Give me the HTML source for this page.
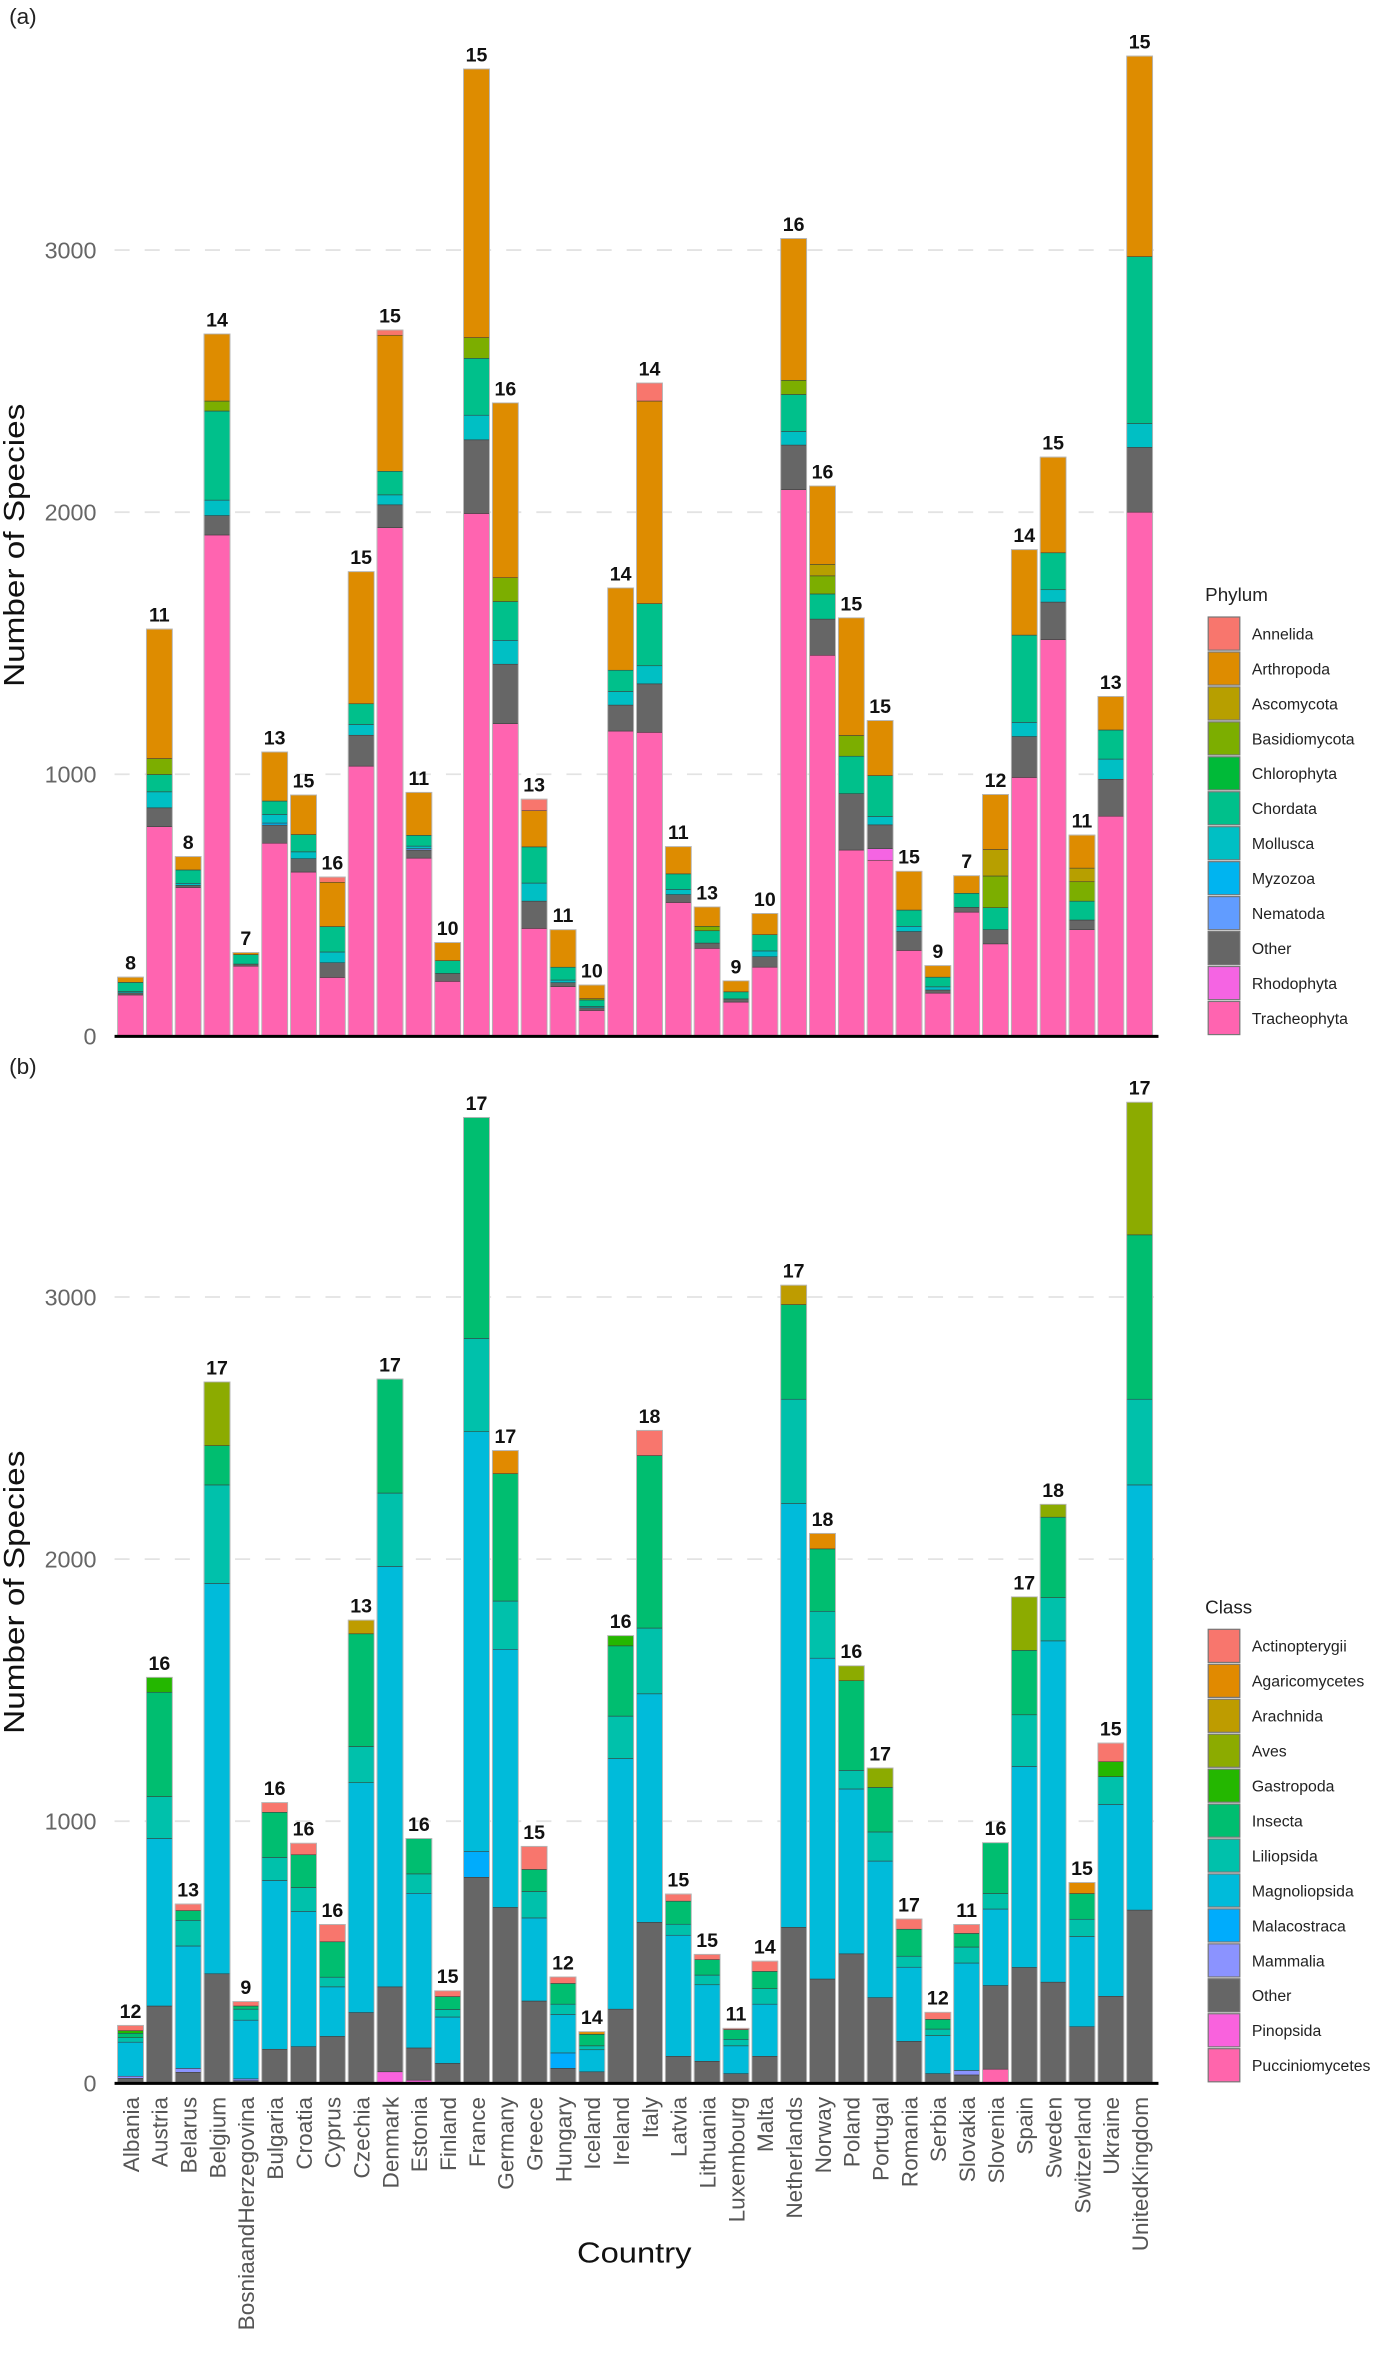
<!DOCTYPE html>
<html><head><meta charset="utf-8"><style>
html,body{margin:0;padding:0;background:#fff;}
svg{display:block;font-family:"Liberation Sans",Arial,sans-serif;}
</style></head><body>
<svg id="chart" xmlns="http://www.w3.org/2000/svg" width="1383" height="2362" viewBox="0 0 918 1568">
<rect width="918" height="1568" fill="#fff"/>
<text x="6" y="16" font-size="15" fill="#222">(a)</text>
<text x="6" y="713" font-size="15" fill="#222">(b)</text>
<text transform="translate(16,362) rotate(-90)" text-anchor="middle" font-size="19" fill="#111" textLength="188" lengthAdjust="spacingAndGlyphs">Number of Species</text>
<text transform="translate(16,1057) rotate(-90)" text-anchor="middle" font-size="19" fill="#111" textLength="188" lengthAdjust="spacingAndGlyphs">Number of Species</text>
<text x="421" y="1502" text-anchor="middle" font-size="19" fill="#111" textLength="76" lengthAdjust="spacingAndGlyphs">Country</text>
<g id="plots"></g>
</svg>
<script>
const countries=["Albania","Austria","Belarus","Belgium","BosniaandHerzegovina","Bulgaria","Croatia","Cyprus","Czechia","Denmark","Estonia","Finland","France","Germany","Greece","Hungary","Iceland","Ireland","Italy","Latvia","Lithuania","Luxembourg","Malta","Netherlands","Norway","Poland","Portugal","Romania","Serbia","Slovakia","Slovenia","Spain","Sweden","Switzerland","Ukraine","UnitedKingdom"];
const yTicks=[0,1000,2000,3000];
const countsA=[8,11,8,14,7,13,15,16,15,15,11,10,15,16,13,11,10,14,14,11,13,9,10,16,16,15,15,15,9,7,12,14,15,11,13,15];
const countsB=[12,16,13,17,9,16,16,16,13,17,16,15,17,17,15,12,14,16,18,15,15,11,14,17,18,16,17,17,12,11,16,17,18,15,15,17];
const phyla=["Annelida","Arthropoda","Ascomycota","Basidiomycota","Chlorophyta","Chordata","Mollusca","Myzozoa","Nematoda","Other","Rhodophyta","Tracheophyta"];
const phylumColors=["#F8766D","#DE8C00","#B79F00","#7CAE00","#00BA38","#00C08B","#00BFC4","#00B4F0","#619CFF","#666666","#F564E3","#FF64B0"];
const annelida=[0,0,0,0,0,0,0,20,0,20,0,0,0,0,44,0,0,0,69,0,0,0,0,0,0,0,0,0,0,0,0,0,0,0,0,0];
const arthropoda=[20,494,51,256,8,187,151,169,504,519,164,69,1025,667,138,143,52,314,773,104,74,42,81,541,299,449,210,148,44,67,210,326,365,126,128,765];
const ascomycota=[0,0,0,0,0,0,0,0,0,0,0,0,0,0,0,0,0,0,0,0,0,0,0,0,44,0,0,0,0,0,101,0,0,52,0,0];
const basidiomycota=[0,61,0,38,0,0,0,0,0,0,0,0,79,91,0,0,5,0,0,0,17,0,0,54,69,79,0,0,0,0,121,0,0,74,0,0];
const chlorophyta=[0,0,0,0,0,0,0,0,0,0,0,0,0,0,0,0,0,0,0,0,0,0,0,0,0,0,0,0,0,0,0,0,0,0,0,0];
const chordata=[35,66,51,340,36,51,66,97,79,90,41,49,217,148,138,49,25,81,237,59,47,27,62,141,96,143,156,62,37,54,84,333,141,72,111,637];
const mollusca=[5,61,8,59,0,33,26,41,41,38,10,0,94,91,69,10,5,52,69,20,0,0,22,52,0,0,32,20,12,0,0,54,47,0,77,91];
const myzozoa=[0,0,0,0,0,8,0,0,0,0,0,0,0,0,0,0,0,0,0,0,0,0,0,0,0,0,0,0,0,0,0,0,0,0,0,0];
const nematoda=[0,0,0,0,0,0,0,0,0,0,5,0,0,0,0,0,0,0,0,0,0,0,0,0,0,0,0,0,0,0,0,0,0,0,0,0];
const otherA=[8,72,8,74,8,69,51,56,118,87,31,30,281,227,104,15,10,99,185,30,20,12,40,170,138,215,91,72,12,18,54,156,143,37,141,247];
const rhodophyta=[0,0,0,0,0,0,0,0,0,0,0,0,0,0,0,0,0,0,0,0,0,0,0,0,0,0,44,0,0,0,0,0,0,0,0,0];
const tracheophyta=[158,800,568,1913,268,737,627,225,1031,1941,680,210,1995,1193,412,190,99,1165,1160,511,336,131,264,2086,1454,711,672,328,165,474,353,988,1514,407,840,2000];
const classes=["Actinopterygii","Agaricomycetes","Arachnida","Aves","Gastropoda","Insecta","Liliopsida","Magnoliopsida","Malacostraca","Mammalia","Other","Pinopsida","Pucciniomycetes"];
const classColors=["#F8766D","#E18A00","#BE9C00","#8CAB00","#24B700","#00BE70","#00C1AB","#00BBDA","#00ACFC","#8B93FF","#666666","#F962DD","#FF65AC"];
const actinopterygii=[20,0,25,0,17,37,44,66,0,0,0,22,0,0,88,25,0,0,96,27,20,5,39,0,0,0,0,39,27,34,0,0,0,0,71,0];
const agaricomycetes=[0,0,0,0,0,0,0,0,0,0,0,0,0,88,0,0,10,0,0,0,0,0,0,0,59,0,0,0,0,0,0,0,0,42,0,0];
const arachnida=[0,0,0,0,0,0,0,0,52,0,0,0,0,0,0,0,0,0,0,0,0,0,0,74,0,0,0,0,0,0,0,0,0,0,0,0];
const aves=[0,0,0,243,0,0,0,0,0,0,0,0,0,0,0,0,0,0,0,0,0,0,0,0,0,57,74,0,0,0,0,204,49,0,0,506];
const gastropoda=[10,57,0,0,0,0,0,0,0,0,0,0,0,0,0,0,0,39,0,0,0,0,0,0,0,0,0,0,0,0,0,0,0,0,57,0];
const insecta=[17,398,37,150,12,172,125,135,430,435,135,49,843,486,84,79,44,268,658,88,59,37,66,361,238,342,170,103,37,52,194,246,307,98,0,627];
const liliopsida=[17,160,98,376,42,88,91,37,138,280,74,29,356,184,101,39,15,162,251,42,37,25,59,398,179,71,111,42,25,61,59,197,165,66,106,327];
const magnoliopsida=[130,639,467,1489,224,644,516,189,877,1604,590,177,1602,985,317,147,84,956,872,462,292,106,199,1617,1224,629,521,283,145,410,292,767,1302,344,732,1622];
const malacostraca=[0,0,0,0,0,0,0,0,0,0,0,0,98,0,0,59,0,0,0,0,0,0,0,0,0,0,0,0,0,0,0,0,0,0,0,0];
const mammalia=[8,0,15,0,7,0,0,0,0,0,0,0,0,0,0,0,0,0,0,0,0,0,0,0,0,0,0,0,0,17,0,0,0,0,0,0];
const otherB=[19,295,42,418,10,130,140,179,270,324,123,76,786,671,314,57,44,283,614,103,84,37,103,595,398,494,327,160,37,32,319,442,386,216,332,661];
const pinopsida=[0,0,0,0,0,0,0,0,0,44,12,0,0,0,0,0,0,0,0,0,0,0,0,0,0,0,0,0,0,0,0,0,0,0,0,0];
const pucciniomycetes=[0,0,0,0,0,0,0,0,0,0,0,0,0,0,0,0,0,0,0,0,0,0,0,0,0,0,0,0,0,0,54,0,0,0,0,0];

const seriesA=[annelida,arthropoda,ascomycota,basidiomycota,chlorophyta,chordata,mollusca,myzozoa,nematoda,otherA,rhodophyta,tracheophyta];
const seriesB=[actinopterygii,agaricomycetes,arachnida,aves,gastropoda,insecta,liliopsida,magnoliopsida,malacostraca,mammalia,otherB,pinopsida,pucciniomycetes];

const NS="http://www.w3.org/2000/svg";
const root=document.getElementById('plots');
function mk(tag,attrs,parent){const e=document.createElementNS(NS,tag);for(const k in attrs)e.setAttribute(k,attrs[k]);(parent||root).appendChild(e);return e;}
const X0=78, STEP=19.14, BW=17.2, PER=0.174;
function xPos(i){return X0+STEP*i;}

function panel(zeroY,names,colors,series,counts,legendTitle,legendTop,key){
  const yS=v=>zeroY-v*PER;
  const g=mk('g',{});
  
  
  yTicks.forEach(t=>{
    if(t>0){const l=mk('line',{x1:76,x2:769,y1:yS(t),y2:yS(t),stroke:'#e3e3e3','stroke-width':1.2,'stroke-dasharray':'10 10'},g);
    
    }
    const tx=mk('text',{x:64,y:yS(t)+5.5,'text-anchor':'end','font-size':15.5,fill:'#666'},g);
    tx.textContent=t;
    
    
  });
  countries.forEach((c,i)=>{
    let base=0;
    for(let s=series.length-1;s>=0;s--){
      const v=series[s][i]; if(!v) continue;
      const r=mk('rect',{x:xPos(i),y:yS(base+v),width:BW,height:v*PER,fill:colors[s],stroke:'#3a3a3a','stroke-width':0.35},g);
      
      
      base+=v;
    }
    const o=mk('rect',{x:xPos(i),y:yS(base),width:BW,height:base*PER,fill:'none',stroke:'#bbb','stroke-width':0.6},g);
    
    
    const lt=mk('text',{x:xPos(i)+BW/2,y:yS(base)-5,'text-anchor':'middle','font-size':13,'font-weight':'bold',fill:'#111'},g);
    lt.textContent=counts[i];
    
    
  });
  const ax=mk('line',{x1:76,x2:769,y1:zeroY,y2:zeroY,stroke:'#000','stroke-width':2},g);
  
  
  const lg=mk('g',{},g);
  
  
  const tt=mk('text',{x:800,y:legendTop-10,'font-size':12.5,fill:'#222'},lg);
  tt.textContent=legendTitle;
  
  
  names.forEach((n,k)=>{
    const y=legendTop+k*23.2;
    const r=mk('rect',{x:802,y:y+0.6,width:21,height:22,fill:colors[k],stroke:'#777','stroke-width':0.8},lg);
    
    
    const t=mk('text',{x:831,y:y+15.5,'font-size':10.5,fill:'#222'},lg);
    t.textContent=n;
    
    
  });
}
panel(688,phyla,phylumColors,seriesA,countsA,'Phylum',409,'phylum');
panel(1383,classes,classColors,seriesB,countsB,'Class',1081,'class');
countries.forEach((c,i)=>{
  const t=mk('text',{transform:'translate('+(xPos(i)+BW/2+5.5)+',1392) rotate(-90)','text-anchor':'end','font-size':15,fill:'#555'});
  t.textContent=c;
  
  
});
</script>
</body></html>
